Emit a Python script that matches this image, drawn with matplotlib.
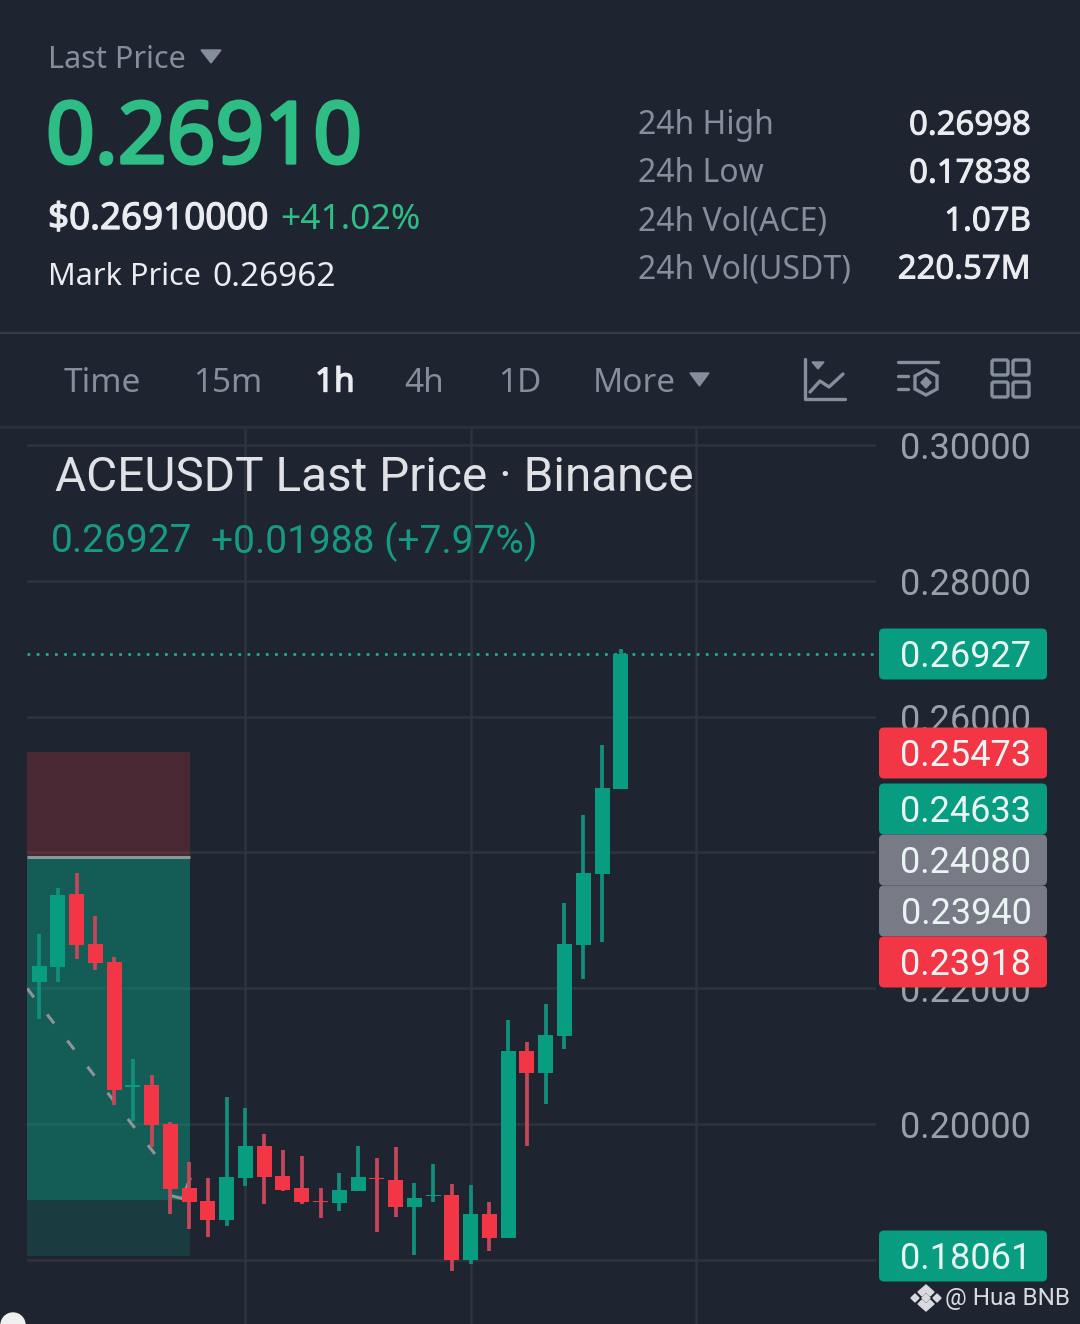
import matplotlib
matplotlib.use('Agg')
import matplotlib.pyplot as plt
import matplotlib.patheffects as pe
from matplotlib.patches import FancyBboxPatch, Polygon, Circle, Rectangle

# candle values
opens = [0.22093, 0.22314, 0.23389, 0.22652, 0.22387, 0.20547, 0.20577, 0.20002, 0.19060, 0.18869, 0.18589,
         0.19207, 0.19678, 0.19237, 0.19060, 0.18869, 0.18839, 0.19016, 0.19207, 0.19178, 0.18780, 0.18942,
         0.18957, 0.18000, 0.18677, 0.18324, 0.21077, 0.20753, 0.21298, 0.22638, 0.23683, 0.24935]
closes = [0.22329, 0.23374, 0.22638, 0.22373, 0.20503, 0.20577, 0.19988, 0.19045, 0.18854, 0.18589, 0.19222,
          0.19678, 0.19222, 0.19031, 0.18854, 0.18854, 0.19031, 0.19222, 0.19193, 0.18780, 0.18913, 0.18957,
          0.18000, 0.18677, 0.18324, 0.21077, 0.20753, 0.21313, 0.22652, 0.23698, 0.24949, 0.26927]
highs = [0.22800, 0.23477, 0.23698, 0.23065, 0.22461, 0.20959, 0.20724, 0.20032, 0.19443, 0.19207, 0.20400,
         0.20238, 0.19855, 0.19620, 0.19531, 0.19060, 0.19281, 0.19678, 0.19502, 0.19664, 0.19134, 0.19413,
         0.19119, 0.19104, 0.18854, 0.21534, 0.21210, 0.21769, 0.23256, 0.24552, 0.25582, 0.26998]
lows = [0.21548, 0.22093, 0.22432, 0.22270, 0.20282, 0.20046, 0.19664, 0.18677, 0.18456, 0.18339, 0.18501,
        0.19089, 0.18824, 0.19016, 0.18824, 0.18618, 0.18721, 0.19016, 0.18412, 0.18633, 0.18074, 0.18854,
        0.17838, 0.17941, 0.18133, 0.18324, 0.19678, 0.20297, 0.21107, 0.22137, 0.22682, 0.24935]

price_ticks = [0.18, 0.20, 0.22, 0.24, 0.26, 0.28, 0.30]
time_ticks = [11, 23, 35]

# position tool levels
zone_top = 0.25473
zone_entry = 0.23940
zone_mid = 0.18883
zone_bottom = 0.18061
zone_end = 8.04
path_x = [-0.64, 6.4]
path_y = [0.22000, 0.19480]
last_price = 0.26927

tag_labels = ['0.26927', '0.25473', '0.24633', '0.24080', '0.23940', '0.23918', '0.18061']
tag_centres = [654, 753, 809, 860, 911, 962, 1256]
tag_colors = ['#089c81', '#f23645', '#089c81', '#787b86', '#787b86', '#f23645', '#089c81']

stats_labels = ['24h High', '24h Low', '24h Vol(ACE)', '24h Vol(USDT)']
stats_values = ['0.26998', '0.17838', '1.07B', '220.57M']
tabs = ['Time', '15m', '1h', '4h', '1D', 'More']
tab_x = [64, 193, 315, 404, 498, 593]

BG = '#1f2530'
GRID = '#2e343e'
GREEN = '#089c81'
RED = '#f23645'
GREY = '#848e9c'
WHITE = '#eaecef'
TOP_FONT = 'Noto Sans'
CHART_FONT = 'Roboto'


# Noto Sans only has the regular weight here, so thicken it with a stroke
def thick(color, width):
    return [pe.withStroke(linewidth=width, foreground=color)]


fig = plt.figure(figsize=(10.8, 13.24), dpi=100, facecolor=BG)

# chart area, pixels 27-876 across and 427-1324 down
ax = fig.add_axes([27 / 1080, 0, (876 - 27) / 1080, (1324 - 427) / 1324], facecolor=BG)
ax.set_xlim(-0.64, 44.6)
ax.set_ylim(0.17058, 0.30264)
for s in ax.spines.values():
    s.set_visible(False)
ax.set_xticks(time_ticks)
ax.set_xticklabels([])
ax.set_yticks(price_ticks)
ax.set_yticklabels(['%.5f' % p for p in price_ticks], family=CHART_FONT, fontsize=26, color='#9aa0a8')
ax.yaxis.tick_right()
ax.tick_params(length=0)
ax.tick_params(axis='y', pad=17.3)
ax.grid(True, color=GRID, linewidth=1.8)
ax.set_axisbelow(True)

# position tool
ax.fill_between([-0.64, zone_end], zone_entry, zone_top, color=RED, alpha=0.2, linewidth=0, zorder=1)
ax.fill_between([-0.64, zone_end], zone_mid, zone_entry, color=GREEN, alpha=0.47, linewidth=0, zorder=1)
ax.fill_between([-0.64, zone_end], zone_bottom, zone_mid, color=GREEN, alpha=0.2, linewidth=0, zorder=1)
ax.plot([-0.64, zone_end], [zone_entry, zone_entry], color='#8f9499', linewidth=2.2, zorder=1.5, solid_capstyle='butt')
ax.plot(path_x, path_y, color='#8f9499', linewidth=2.2, linestyle=(0, (3.7, 7.1)), zorder=1.6)
ax.plot([7.0, 7.62, 8.04], [0.18950, 0.18905, 0.19190], color='#8f9499', linewidth=2.2, zorder=1.6)

# last price line
ax.plot([-0.64, 44.6], [last_price, last_price], color='#2aa493', linewidth=2, linestyle=(0, (1, 2.3)), zorder=1.7)

# candles
for i in range(len(opens)):
    up = closes[i] >= opens[i]
    body = GREEN if up else RED
    wick = '#128f7c' if up else '#c8465a'
    ax.vlines(i, lows[i], highs[i], color=wick, linewidth=2.7, zorder=3)
    ax.bar(i, abs(closes[i] - opens[i]), bottom=min(opens[i], closes[i]), width=0.8, color=body, linewidth=0, zorder=4)

# everything else goes on a pixel overlay
ui = fig.add_axes([0, 0, 1, 1])
ui.set_xlim(0, 1080)
ui.set_ylim(1324, 0)
ui.axis('off')
ui.patch.set_alpha(0)

ui.add_patch(Rectangle((0, 0), 1080, 426, color=BG, zorder=0))
ui.plot([0, 1080], [333, 333], color='#363c47', linewidth=1.6)
ui.plot([0, 1080], [426.5, 426.5], color='#2a303b', linewidth=2.4)

# header
ui.text(48, 60, 'Last Price', family=TOP_FONT, fontsize=22, color=GREY, va='center')
ui.add_patch(Polygon([(201, 50), (221, 50), (211, 63)], color=GREY))
ui.text(46, 141, '0.26910', family=TOP_FONT, fontsize=61.5, color='#2ebd85', va='center',
        path_effects=thick('#2ebd85', 2.4))
ui.text(48, 220, '$0.26910000', family=TOP_FONT, fontsize=26.5, color=WHITE, va='center',
        path_effects=thick(WHITE, 0.9))
ui.text(280, 220, '+41.02%', family=TOP_FONT, fontsize=25.5, color='#2ebd85', va='center')
ui.text(48, 277, 'Mark Price', family=TOP_FONT, fontsize=22, color=WHITE, va='center')
ui.text(212, 277, '0.26962', family=TOP_FONT, fontsize=24, color=WHITE, va='center')
for i in range(4):
    yy = 126 + 48 * i
    ui.text(638, yy, stats_labels[i], family=TOP_FONT, fontsize=23, color=GREY, va='center')
    ui.text(1031, yy, stats_values[i], family=TOP_FONT, fontsize=23.7, color=WHITE, va='center', ha='right',
            path_effects=thick(WHITE, 0.7))

# tabs
for name, xx in zip(tabs, tab_x):
    active = name == '1h'
    ui.text(xx, 383, name, family=TOP_FONT, fontsize=24, color=WHITE if active else GREY, va='center',
            path_effects=thick(WHITE, 1.0) if active else None)
ui.add_patch(Polygon([(690, 373), (709, 373), (699.5, 386)], color=GREY))

# toolbar icons
ico = dict(color=GREY, linewidth=2.4, solid_capstyle='round', solid_joinstyle='round')
ui.plot([805, 805, 845], [359, 399, 399], **ico)
ui.plot([810, 820, 829, 843], [392, 381, 387, 374], **ico)
ui.add_patch(Polygon([(812, 362), (824, 362), (818, 369)], color=GREY))
ui.plot([898, 938], [362, 362], **ico)
ui.plot([898, 908], [376, 376], **ico)
ui.plot([898, 908], [389, 389], **ico)
ui.add_patch(Polygon([(926, 370), (937, 376), (937, 389), (926, 395), (915, 389), (915, 376)],
                     fill=False, edgecolor=GREY, linewidth=2.4))
ui.add_patch(Polygon([(926, 377), (931, 382.5), (926, 388), (921, 382.5)], color=GREY))
for bx in [992, 1013]:
    for by in [360, 382]:
        ui.add_patch(FancyBboxPatch((bx, by), 16, 15, boxstyle='round,pad=0,rounding_size=2',
                                    fill=False, edgecolor=GREY, linewidth=2.4))

# chart legend
ui.text(55, 478, 'ACEUSDT Last Price · Binance', family=CHART_FONT, fontsize=34.4, color='#dfe1e5', va='center')
ui.text(51, 542, '0.26927', family=CHART_FONT, fontsize=28, color='#169a84', va='center')
ui.text(211, 542, '+0.01988 (+7.97%)', family=CHART_FONT, fontsize=28, color='#169a84', va='center')

# price tags
for label, yy, col in zip(tag_labels, tag_centres, tag_colors):
    ui.add_patch(FancyBboxPatch((879, yy - 25.5), 168, 51, boxstyle='round,pad=0,rounding_size=5',
                                facecolor=col, edgecolor='none', zorder=5))
    ui.text(966, yy + 3, label, family=CHART_FONT, fontsize=26, color='#e8f5f2', va='center', ha='center', zorder=6)

# watermark
ui.add_patch(Polygon([(926, 1285), (934, 1292), (930, 1296), (926, 1292), (922, 1296), (918, 1292)], color='#d8dade', zorder=6))
ui.add_patch(Polygon([(926, 1311), (934, 1304), (930, 1300), (926, 1304), (922, 1300), (918, 1304)], color='#d8dade', zorder=6))
ui.add_patch(Polygon([(926, 1294), (930, 1298), (926, 1302), (922, 1298)], color='#d8dade', zorder=6))
ui.add_patch(Polygon([(915, 1294), (919, 1298), (915, 1302), (911, 1298)], color='#d8dade', zorder=6))
ui.add_patch(Polygon([(937, 1294), (941, 1298), (937, 1302), (933, 1298)], color='#d8dade', zorder=6))
ui.text(945, 1298, '@ Hua BNB', family=CHART_FONT, fontsize=17.5, color='#d8dade', va='center', zorder=6)

ui.add_patch(Circle((13, 1325), 12, color='#f0f0f0', clip_on=True))

fig.savefig('out.png', dpi=100, facecolor=BG)
